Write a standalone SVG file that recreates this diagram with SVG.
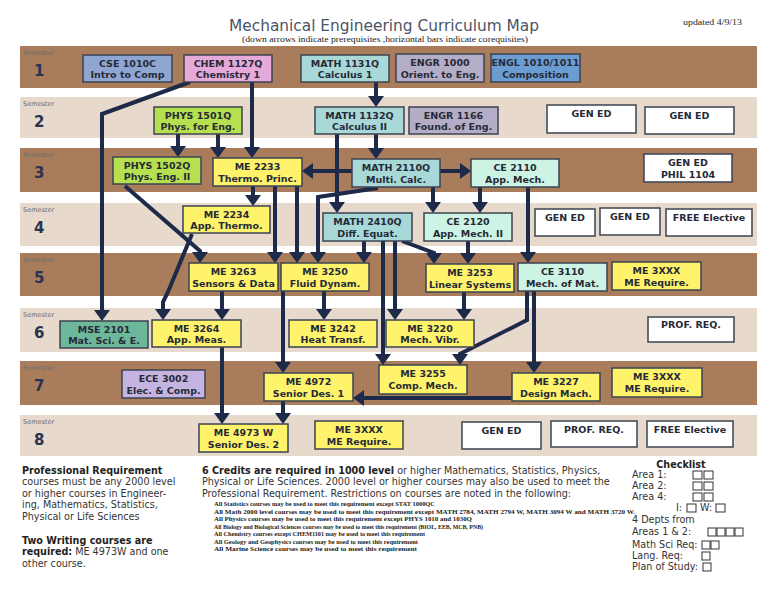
<svg xmlns="http://www.w3.org/2000/svg" width="768" height="594" viewBox="0 0 768 594">
<defs>
<style>
.bd{fill:#A97C5B}
.bl{fill:#E7D9CC}
.sl{font:6.5px "DejaVu Sans",sans-serif;fill:#6b6b6b}
.sn{font:bold 15px "DejaVu Sans",sans-serif;fill:#2a3350}
.box rect{stroke:#3b4350;stroke-width:1.5}
.box text{font:bold 9.5px "DejaVu Sans",sans-serif;fill:#262a36;text-anchor:middle}
.cse{fill:#8EA6D1}
.chem{fill:#E5A9DA}
.math{fill:#A9D8D9}
.engr{fill:#B3ADC7}
.engl{fill:#6C9DD2}
.phys{fill:#B6E04F}
.me{fill:#FEF36B}
.ce{fill:#CDF3E4}
.mse{fill:#6DB79B}
.ece{fill:#C5B4E2}
.wh{fill:#FFFFFF}
.con{fill:none;stroke:#1E2A4A;stroke-width:4;stroke-linejoin:miter;marker-end:url(#ah)}
.tx{font:9.6px "DejaVu Sans",sans-serif;fill:#333}
.b{font-weight:bold;fill:#222}
.tiny{font:bold 6.3px "Liberation Serif",serif;fill:#222}
.ck rect{fill:#fff;stroke:#333;stroke-width:1}
</style>
<marker id="ah" viewBox="0 0 11 16" markerWidth="11" markerHeight="16" refX="3" refY="8" orient="auto" markerUnits="userSpaceOnUse"><path d="M0,0L11,8L0,16z" fill="#1E2A4A"/></marker>
</defs>
<rect width="768" height="594" fill="#fff"/>

<g id="title">
<text x="384" y="31" text-anchor="middle" font-family="DejaVu Sans, sans-serif" font-size="16" fill="#4b5467" textLength="310" lengthAdjust="spacingAndGlyphs">Mechanical Engineering Curriculum Map</text>
<text x="385" y="42" text-anchor="middle" font-family="Liberation Serif, serif" font-size="9" fill="#222" textLength="286" lengthAdjust="spacingAndGlyphs">(down arrows indicate prerequisites ,horizontal bars indicate corequisites)</text>
<text x="683" y="25" font-family="Liberation Serif, serif" font-size="9" fill="#222" textLength="59" lengthAdjust="spacingAndGlyphs">updated 4/9/13</text>
</g>

<g id="bands">
<rect class="bd" x="20" y="46" width="737" height="42"/>
<rect class="bl" x="20" y="97" width="737" height="41"/>
<rect class="bd" x="20" y="148" width="737" height="44"/>
<rect class="bl" x="20" y="203" width="737" height="43"/>
<rect class="bd" x="20" y="253" width="737" height="43"/>
<rect class="bl" x="20" y="308" width="737" height="44"/>
<rect class="bd" x="20" y="361" width="737" height="44"/>
<rect class="bl" x="20" y="415" width="737" height="41"/>
<text class="sl" x="23" y="55">Semester</text><text class="sn" x="34" y="76">1</text>
<text class="sl" x="23" y="106">Semester</text><text class="sn" x="34" y="127">2</text>
<text class="sl" x="23" y="157">Semester</text><text class="sn" x="34" y="178">3</text>
<text class="sl" x="23" y="212">Semester</text><text class="sn" x="34" y="233">4</text>
<text class="sl" x="23" y="262">Semester</text><text class="sn" x="34" y="283">5</text>
<text class="sl" x="23" y="317">Semester</text><text class="sn" x="34" y="338">6</text>
<text class="sl" x="23" y="370">Semester</text><text class="sn" x="34" y="391">7</text>
<text class="sl" x="23" y="424">Semester</text><text class="sn" x="34" y="445">8</text>
</g>

<g id="connectors">
<polyline class="con" points="190,82 102,114 102,313"/>
<polyline class="con" points="252,82 252,150"/>
<polyline class="con" points="178,134 178,149"/>
<polyline class="con" points="218,134 218,150"/>
<polyline class="con" points="376,82 376,99"/>
<polyline class="con" points="376,134 376,151"/>
<polyline class="con" points="337,134 337,205"/>
<polyline class="con" points="352,171 310,171"/>
<polyline class="con" points="440,171 463,171"/>
<polyline class="con" points="433,187 433,205"/>
<polyline class="con" points="480,187 480,205"/>
<polyline class="con" points="528,187 528,255"/>
<polyline class="con" points="378,188 318,197 318,255"/>
<polyline class="con" points="253,186 253,198"/>
<polyline class="con" points="275,186 275,255"/>
<polyline class="con" points="297,186 297,255"/>
<polyline class="con" points="125,186 200,251 200,255"/>
<polyline class="con" points="192,234 168,292 163,302 163,312"/>
<polyline class="con" points="364,241 364,255"/>
<polyline class="con" points="383,241 383,357"/>
<polyline class="con" points="395,241 395,312"/>
<polyline class="con" points="402,241 434,253 434,256"/>
<polyline class="con" points="468,241 468,256"/>
<polyline class="con" points="324,291 324,312"/>
<polyline class="con" points="464,292 464,312"/>
<polyline class="con" points="283,291 283,365"/>
<polyline class="con" points="222,291 222,312"/>
<polyline class="con" points="222,347 222,416"/>
<polyline class="con" points="283,401 283,416"/>
<polyline class="con" points="527,291 527,320 460,354 460,357"/>
<polyline class="con" points="534,291 534,365"/>
<polyline class="con" points="512,398 361,398"/>
</g>

<g id="n-cse1010c" class="box"><rect class="cse" x="83" y="55" width="89" height="27"/><text x="127.5" y="66.5">CSE 1010C</text><text x="127.5" y="78">Intro to Comp</text></g>
<g id="n-chem1127q" class="box"><rect class="chem" x="184" y="55" width="88" height="27"/><text x="228" y="66.5">CHEM 1127Q</text><text x="228" y="78">Chemistry 1</text></g>
<g id="n-math1131q" class="box"><rect class="math" x="301" y="55" width="88" height="27"/><text x="345" y="66.5">MATH 1131Q</text><text x="345" y="78">Calculus 1</text></g>
<g id="n-engr1000" class="box"><rect class="engr" x="396" y="54" width="88" height="28"/><text x="440" y="66">ENGR 1000</text><text x="440" y="77.5">Orient. to Eng.</text></g>
<g id="n-engl1010" class="box"><rect class="engl" x="491" y="54" width="89" height="28"/><text x="535.5" y="66">ENGL 1010/1011</text><text x="535.5" y="77.5">Composition</text></g>

<g id="n-phys1501q" class="box"><rect class="phys" x="154" y="107" width="88" height="27"/><text x="198" y="118.5">PHYS 1501Q</text><text x="198" y="130">Phys. for Eng.</text></g>
<g id="n-math1132q" class="box"><rect class="math" x="315" y="107" width="89" height="27"/><text x="359.5" y="118.5">MATH 1132Q</text><text x="359.5" y="130">Calculus II</text></g>
<g id="n-engr1166" class="box"><rect class="engr" x="409" y="107" width="89" height="27"/><text x="453.5" y="118.5">ENGR 1166</text><text x="453.5" y="130">Found. of Eng.</text></g>
<g id="n-gened-2a" class="box"><rect class="wh" x="547" y="105" width="89" height="28"/><text x="591.5" y="117">GEN ED</text></g>
<g id="n-gened-2b" class="box"><rect class="wh" x="645" y="107" width="89" height="27"/><text x="689.5" y="118.5">GEN ED</text></g>

<g id="n-phys1502q" class="box"><rect class="phys" x="113" y="157" width="88" height="27"/><text x="157" y="168.5">PHYS 1502Q</text><text x="157" y="180">Phys. Eng. II</text></g>
<g id="n-me2233" class="box"><rect class="me" x="213" y="158" width="89" height="28"/><text x="257.5" y="170">ME 2233</text><text x="257.5" y="181.5">Thermo. Princ.</text></g>
<g id="n-math2110q" class="box"><rect class="math" x="352" y="159" width="88" height="28"/><text x="396" y="171">MATH 2110Q</text><text x="396" y="182.5">Multi. Calc.</text></g>
<g id="n-ce2110" class="box"><rect class="ce" x="471" y="159" width="88" height="28"/><text x="515" y="171">CE 2110</text><text x="515" y="182.5">App. Mech.</text></g>
<g id="n-gened-phil" class="box"><rect class="wh" x="644" y="154" width="88" height="28"/><text x="688" y="166">GEN ED</text><text x="688" y="177.5">PHIL 1104</text></g>

<g id="n-me2234" class="box"><rect class="me" x="183" y="206" width="87" height="27"/><text x="226.5" y="217.5">ME 2234</text><text x="226.5" y="229">App. Thermo.</text></g>
<g id="n-math2410q" class="box"><rect class="math" x="323" y="213" width="89" height="28"/><text x="367.5" y="225">MATH 2410Q</text><text x="367.5" y="236.5">Diff. Equat.</text></g>
<g id="n-ce2120" class="box"><rect class="ce" x="424" y="213" width="88" height="28"/><text x="468" y="225">CE 2120</text><text x="468" y="236.5">App. Mech. II</text></g>
<g id="n-gened-4a" class="box"><rect class="wh" x="535" y="209" width="60" height="27"/><text x="565" y="220.5">GEN ED</text></g>
<g id="n-gened-4b" class="box"><rect class="wh" x="600" y="208" width="60" height="27"/><text x="630" y="219.5">GEN ED</text></g>
<g id="n-free-4" class="box"><rect class="wh" x="666" y="209" width="86" height="27"/><text x="709" y="220.5">FREE Elective</text></g>

<g id="n-me3263" class="box"><rect class="me" x="189" y="263" width="89" height="28"/><text x="233.5" y="275">ME 3263</text><text x="233.5" y="286.5">Sensors &amp; Data</text></g>
<g id="n-me3250" class="box"><rect class="me" x="281" y="263" width="88" height="28"/><text x="325" y="275">ME 3250</text><text x="325" y="286.5">Fluid Dynam.</text></g>
<g id="n-me3253" class="box"><rect class="me" x="426" y="264" width="88" height="28"/><text x="470" y="276">ME 3253</text><text x="470" y="287.5">Linear Systems</text></g>
<g id="n-ce3110" class="box"><rect class="ce" x="518" y="263" width="89" height="28"/><text x="562.5" y="275">CE 3110</text><text x="562.5" y="286.5">Mech. of Mat.</text></g>
<g id="n-me3xxx-5" class="box"><rect class="me" x="612" y="262" width="89" height="28"/><text x="656.5" y="274">ME 3XXX</text><text x="656.5" y="285.5">ME Require.</text></g>

<g id="n-mse2101" class="box"><rect class="mse" x="60" y="321" width="88" height="27"/><text x="104" y="332.5">MSE 2101</text><text x="104" y="344">Mat. Sci. &amp; E.</text></g>
<g id="n-me3264" class="box"><rect class="me" x="152" y="320" width="89" height="27"/><text x="196.5" y="331.5">ME 3264</text><text x="196.5" y="343">App. Meas.</text></g>
<g id="n-me3242" class="box"><rect class="me" x="289" y="320" width="88" height="27"/><text x="333" y="331.5">ME 3242</text><text x="333" y="343">Heat Transf.</text></g>
<g id="n-me3220" class="box"><rect class="me" x="386" y="320" width="88" height="27"/><text x="430" y="331.5">ME 3220</text><text x="430" y="343">Mech. Vibr.</text></g>
<g id="n-prof-6" class="box"><rect class="wh" x="648" y="317" width="86" height="25"/><text x="691" y="328">PROF. REQ.</text></g>

<g id="n-ece3002" class="box"><rect class="ece" x="122" y="370" width="83" height="28"/><text x="163.5" y="382">ECE 3002</text><text x="163.5" y="393.5">Elec. &amp; Comp.</text></g>
<g id="n-me4972" class="box"><rect class="me" x="264" y="373" width="89" height="28"/><text x="308.5" y="385">ME 4972</text><text x="308.5" y="396.5">Senior Des. 1</text></g>
<g id="n-me3255" class="box"><rect class="me" x="379" y="365" width="88" height="29"/><text x="423" y="377">ME 3255</text><text x="423" y="388.5">Comp. Mech.</text></g>
<g id="n-me3227" class="box"><rect class="me" x="512" y="373" width="88" height="28"/><text x="556" y="385">ME 3227</text><text x="556" y="396.5">Design Mach.</text></g>
<g id="n-me3xxx-7" class="box"><rect class="me" x="612" y="368" width="90" height="29"/><text x="657" y="380">ME 3XXX</text><text x="657" y="391.5">ME Require.</text></g>

<g id="n-me4973w" class="box"><rect class="me" x="199" y="424" width="89" height="28"/><text x="243.5" y="436">ME 4973 W</text><text x="243.5" y="447.5">Senior Des. 2</text></g>
<g id="n-me3xxx-8" class="box"><rect class="me" x="315" y="421" width="88" height="28"/><text x="359" y="433">ME 3XXX</text><text x="359" y="444.5">ME Require.</text></g>
<g id="n-gened-8" class="box"><rect class="wh" x="462" y="422" width="79" height="27"/><text x="501.5" y="433.5">GEN ED</text></g>
<g id="n-prof-8" class="box"><rect class="wh" x="551" y="421" width="86" height="26"/><text x="594" y="432.5">PROF. REQ.</text></g>
<g id="n-free-8" class="box"><rect class="wh" x="647" y="421" width="86" height="26"/><text x="690" y="432.5">FREE Elective</text></g>

<g id="notes-left">
<text class="tx b" x="22" y="473.5">Professional Requirement</text>
<text class="tx" x="22" y="485">courses must be any 2000 level</text>
<text class="tx" x="22" y="496.5">or higher courses in Engineer-</text>
<text class="tx" x="22" y="508">ing, Mathematics, Statistics,</text>
<text class="tx" x="22" y="519.5">Physical or Life Sciences</text>
<text class="tx b" x="22" y="543.5">Two Writing courses are</text>
<text class="tx" x="22" y="555"><tspan class="b">required:</tspan> ME 4973W and one</text>
<text class="tx" x="22" y="566.5">other course.</text>
</g>

<g id="notes-mid">
<text class="tx" x="202" y="473.5"><tspan class="b">6 Credits are required in 1000 level</tspan> or higher Mathematics, Statistics, Physics,</text>
<text class="tx" x="202" y="485">Physical or Life Sciences. 2000 level or higher courses may also be used to meet the</text>
<text class="tx" x="202" y="496.5">Professional Requirement. Restrictions on courses are noted in the following:</text>
<text class="tiny" x="214" y="506" textLength="221" lengthAdjust="spacingAndGlyphs">All Statistics courses may be used to meet this requirement except STAT 1000QC</text>
<text class="tiny" x="214" y="513.5" textLength="421" lengthAdjust="spacingAndGlyphs">All Math 2000 level courses may be used to meet this requirement except MATH 2784, MATH 2794 W, MATH 3094 W and MATH 3720 W.</text>
<text class="tiny" x="214" y="521" textLength="258" lengthAdjust="spacingAndGlyphs">All Physics courses may be used to meet this requirement except PHYS 1010 and 1030Q</text>
<text class="tiny" x="214" y="528.5" textLength="269" lengthAdjust="spacingAndGlyphs">All Biology and Biological Sciences courses may be used to meet this requirement (BIOL, EEB, MCB, PNB)</text>
<text class="tiny" x="214" y="536" textLength="211" lengthAdjust="spacingAndGlyphs">All Chemistry courses except CHEM1101 may be used to meet this requirement</text>
<text class="tiny" x="214" y="543.5" textLength="204" lengthAdjust="spacingAndGlyphs">All Geology and Geophysics courses may be used to meet this requirement</text>
<text class="tiny" x="214" y="551" textLength="203" lengthAdjust="spacingAndGlyphs">All Marine Science courses may be used to meet this requirement</text>
</g>

<g id="checklist" class="ck">
<text x="681" y="468" text-anchor="middle" font-family="DejaVu Sans, sans-serif" font-weight="bold" font-size="9.6" fill="#222">Checklist</text>
<text class="tx" x="632" y="478">Area 1:</text><rect x="693" y="471" width="9" height="8"/><rect x="704" y="471" width="9" height="8"/>
<text class="tx" x="632" y="489">Area 2:</text><rect x="693" y="482" width="9" height="8"/><rect x="704" y="482" width="9" height="8"/>
<text class="tx" x="632" y="500">Area 4:</text><rect x="693" y="493" width="9" height="8"/><rect x="704" y="493" width="9" height="8"/>
<text class="tx" x="676" y="511">I:</text><rect x="687" y="504" width="9" height="8"/>
<text class="tx" x="700" y="511">W:</text><rect x="716" y="504" width="9" height="8"/>
<text class="tx" x="632" y="523">4 Depts from</text>
<text class="tx" x="632" y="535">Areas 1 &amp; 2:</text><rect x="708" y="528" width="8" height="8"/><rect x="717" y="528" width="8" height="8"/><rect x="726" y="528" width="8" height="8"/><rect x="735" y="528" width="8" height="8"/>
<text class="tx" x="632" y="548">Math Sci Req:</text><rect x="702" y="541" width="8" height="8"/><rect x="711" y="541" width="8" height="8"/>
<text class="tx" x="632" y="559">Lang. Req:</text><rect x="702" y="552" width="8" height="8"/>
<text class="tx" x="632" y="570">Plan of Study:</text><rect x="703" y="563" width="8" height="8"/>
</g>
</svg>
